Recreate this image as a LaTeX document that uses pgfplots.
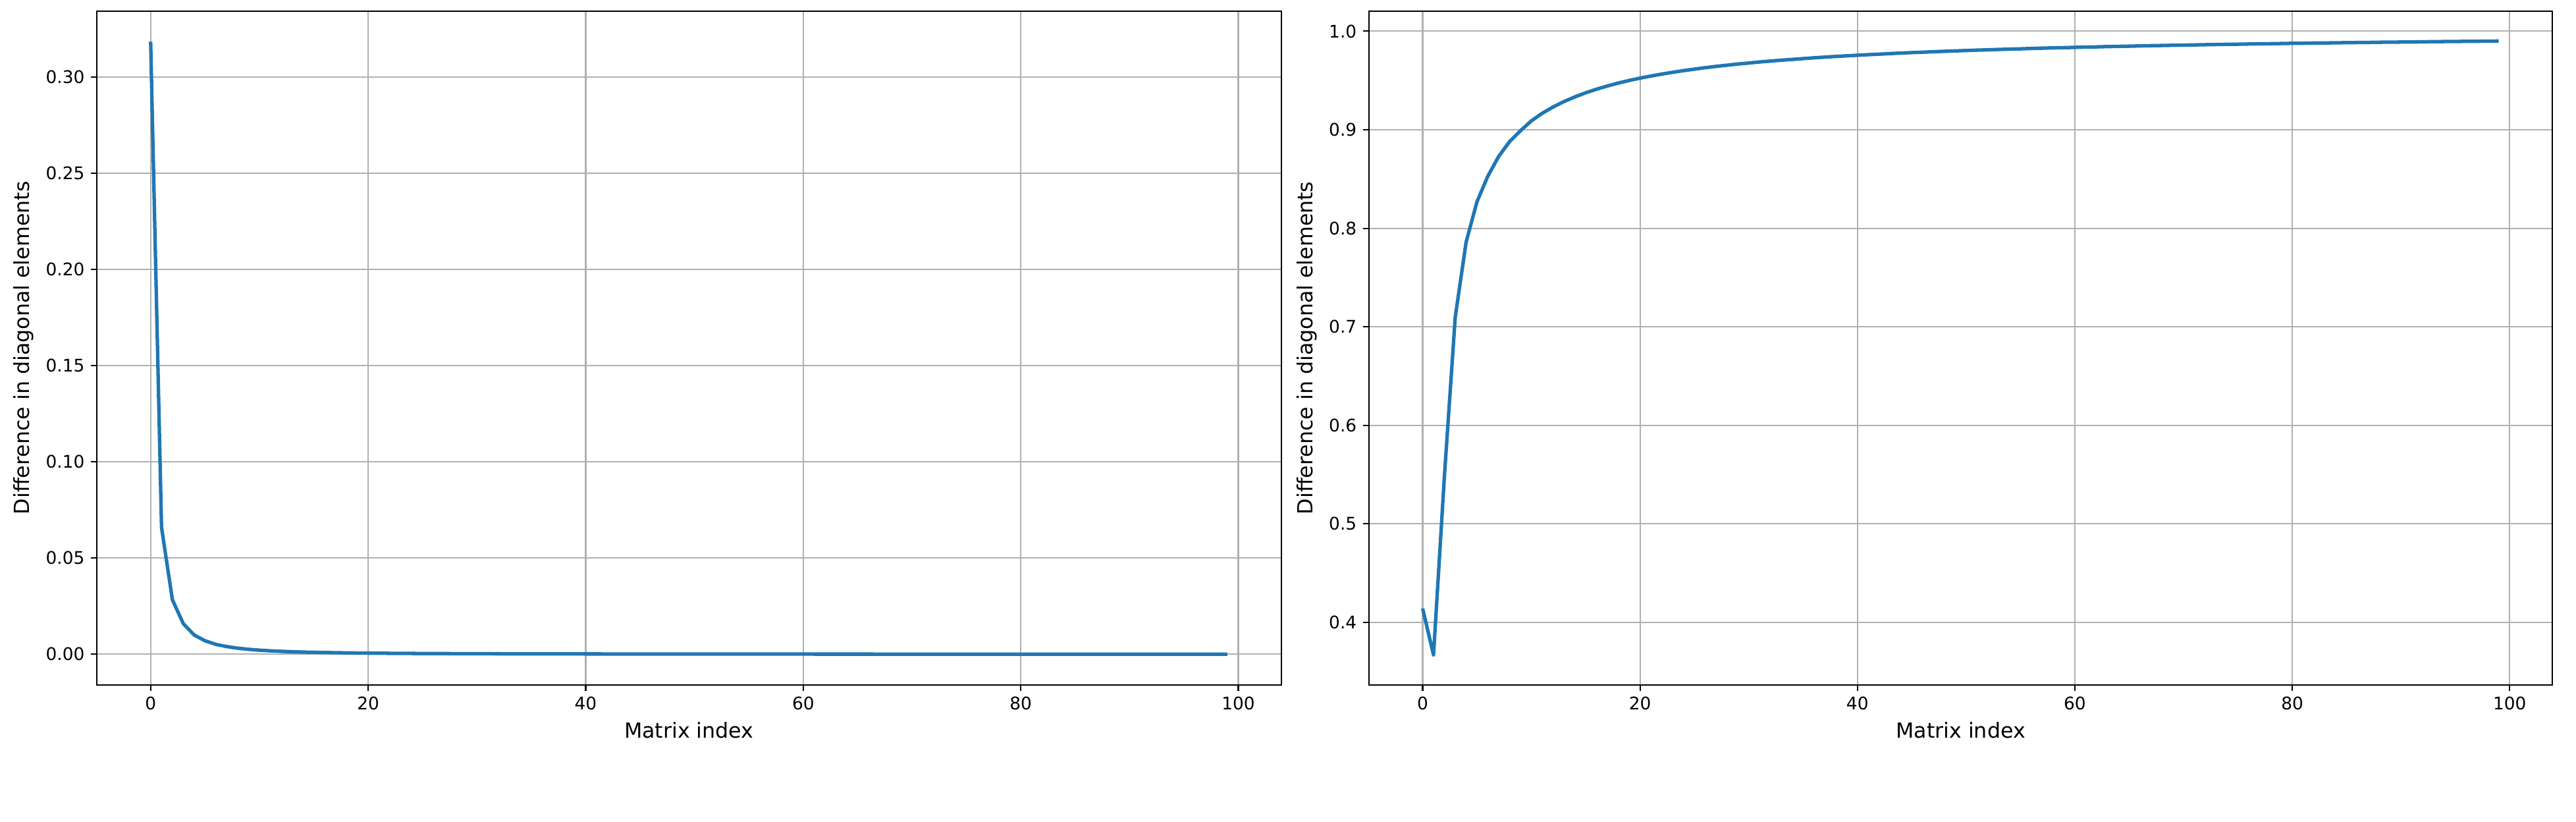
\documentclass[border=0pt]{standalone}
\usepackage{pgfplots}
\pgfplotsset{compat=1.18}
\usepackage{pgfplotstable}
\usepackage{fontspec}
\setmainfont{DejaVu Sans}
\definecolor{mplblue}{HTML}{1F77B4}
\definecolor{gridgray}{HTML}{B0B0B0}
\pgfplotstableread{
n v
0 0.3183
1 0.0659
2 0.0283
3 0.0159
4 0.0100
5 0.0070
6 0.0051
7 0.00398
8 0.00315
9 0.00255
10 0.00211
11 0.00177
12 0.00151
13 0.00130
14 0.00113
15 0.00100
16 0.00088
17 0.00079
18 0.00071
19 0.00064
20 0.00058
21 0.00053
22 0.00048
23 0.00044
24 0.00041
25 0.00038
26 0.00035
27 0.00033
28 0.00030
29 0.00028
30 0.00027
31 0.00025
32 0.00023
33 0.00022
34 0.00021
35 0.00020
36 0.00019
37 0.00018
38 0.00017
39 0.00016
40 0.00015
41 0.000145
42 0.000138
43 0.000132
44 0.000126
45 0.000121
46 0.000115
47 0.000111
48 0.000106
49 0.000102
50 0.000098
51 0.000094
52 0.000091
53 0.000087
54 0.000084
55 0.000081
56 0.000078
57 0.000076
58 0.000073
59 0.000071
60 0.000069
61 0.000066
62 0.000064
63 0.000062
64 0.000060
65 0.000059
66 0.000057
67 0.000055
68 0.000054
69 0.000052
70 0.000051
71 0.000049
72 0.000048
73 0.000047
74 0.000045
75 0.000044
76 0.000043
77 0.000042
78 0.000041
79 0.000040
80 0.000039
81 0.000038
82 0.000037
83 0.000036
84 0.000035
85 0.000034
86 0.000034
87 0.000033
88 0.000032
89 0.000031
90 0.000031
91 0.000030
92 0.000029
93 0.000029
94 0.000028
95 0.000028
96 0.000027
97 0.000027
98 0.000026
99 0.000026
}\lefttable
\pgfplotstableread{
n v
0 0.414
1 0.367
2 0.548
3 0.710
4 0.786
5 0.827
6 0.853
7 0.873
8 0.888
9 0.899
10 0.909
11 0.9167
12 0.9231
13 0.9286
14 0.9333
15 0.9375
16 0.9412
17 0.9444
18 0.9474
19 0.9500
20 0.9524
21 0.9545
22 0.9565
23 0.9583
24 0.9600
25 0.9615
26 0.9630
27 0.9643
28 0.9655
29 0.9667
30 0.9677
31 0.9688
32 0.9697
33 0.9706
34 0.9714
35 0.9722
36 0.9730
37 0.9737
38 0.9744
39 0.9750
40 0.9756
41 0.9762
42 0.9767
43 0.9773
44 0.9778
45 0.9783
46 0.9787
47 0.9792
48 0.9796
49 0.9800
50 0.9804
51 0.9808
52 0.9811
53 0.9815
54 0.9818
55 0.9821
56 0.9825
57 0.9828
58 0.9831
59 0.9833
60 0.9836
61 0.9839
62 0.9841
63 0.9844
64 0.9846
65 0.9848
66 0.9851
67 0.9853
68 0.9855
69 0.9857
70 0.9859
71 0.9861
72 0.9863
73 0.9865
74 0.9867
75 0.9868
76 0.9870
77 0.9872
78 0.9873
79 0.9875
80 0.9877
81 0.9878
82 0.9880
83 0.9881
84 0.9882
85 0.9884
86 0.9885
87 0.9886
88 0.9888
89 0.9889
90 0.9890
91 0.9891
92 0.9892
93 0.9894
94 0.9895
95 0.9896
96 0.9897
97 0.9898
98 0.9899
99 0.9900
}\righttable
\pgfplotsset{
  mystyle/.style={
    scale only axis,
    height=387.5pt,
    xmin=-4.95, xmax=103.95,
    xtick={0,20,40,60,80,100},
    grid=major,
    major grid style={draw=gridgray, line width=0.8pt},
    axis line style={line width=0.8pt},
    tick style={black, line width=0.8pt},
    major tick length=3.5pt,
    tick align=outside,
    tick pos=left,
    /pgf/number format/assume math mode=true,
    ticklabel style={font=\fontsize{10}{12}\selectfont},
    label style={font=\fontsize{12}{14}\selectfont},
    xlabel={Matrix index},
    ylabel={Difference in diagonal elements},
    xticklabel style={/pgf/number format/.cd, fixed, 1000 sep={}},
  }
}
\begin{document}
\begin{tikzpicture}
\path (0,0) rectangle (1482pt,472.7pt);
\begin{axis}[mystyle,
  at={(55.7pt,78.8pt)}, anchor=south west,
  width=681.4pt,
  ymin=-0.0159, ymax=0.3342,
  ytick={0,0.05,0.10,0.15,0.20,0.25,0.30},
  yticklabel style={/pgf/number format/.cd, fixed, fixed zerofill, precision=2},
]
\addplot[mplblue, line width=2pt, line join=round] table[x=n, y=v] {\lefttable};
\end{axis}
\begin{axis}[mystyle,
  at={(787.5pt,78.8pt)}, anchor=south west,
  width=681pt,
  ymin=0.3366, ymax=1.0204,
  ytick={0.4,0.5,0.6,0.7,0.8,0.9,1.0},
  yticklabel style={/pgf/number format/.cd, fixed, fixed zerofill, precision=1},
]
\addplot[mplblue, line width=2pt, line join=round] table[x=n, y=v] {\righttable};
\end{axis}
\end{tikzpicture}
\end{document}
